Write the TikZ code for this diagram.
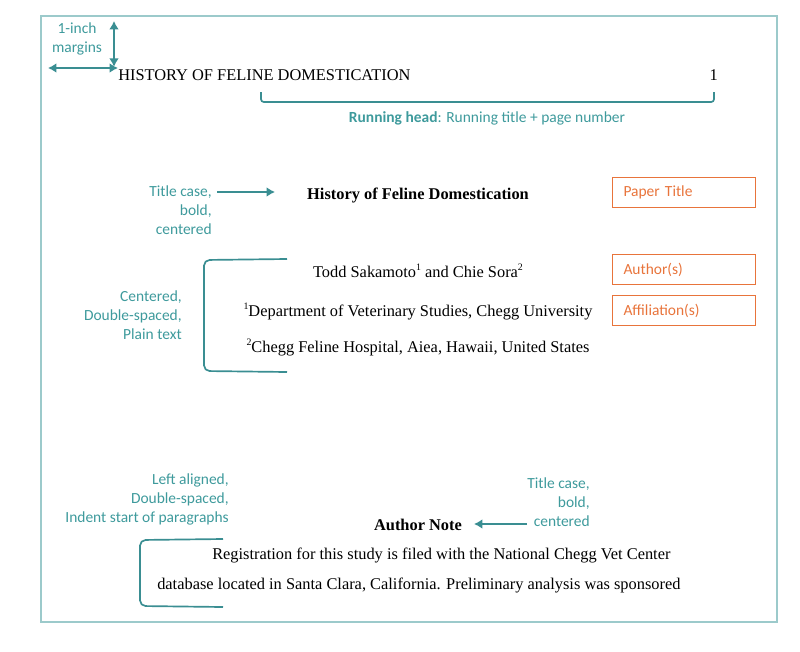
\documentclass[tikz,border=0pt]{standalone}
\usepackage{fontspec}
\setmainfont{Liberation Serif}
\newfontfamily\notefont{Carlito}
\usetikzlibrary{positioning, arrows.meta}
\definecolor{framecol}{HTML}{9CCACB}
\definecolor{notecol}{HTML}{3E9A9C}
\definecolor{arrowcol}{HTML}{3A8E92}
\definecolor{labelcol}{HTML}{E8743B}
\newcommand{\px}{0.025cm}
\newcommand{\affmark}[1]{\raisebox{0.38em}{\fontsize{7}{8}\selectfont #1}}

\begin{document}
\begin{tikzpicture}[
        x = \px,
        y = -\px,
        body/.style = {inner sep = 0pt, font = \fontsize{11.65}{14}\selectfont},
        bold body/.style = {inner sep = 0pt, font = \fontsize{11.65}{14}\selectfont\bfseries},
        note/.style = {inner sep = 0pt, text = notecol, align = right, font = \notefont\fontsize{11}{13.2}\selectfont},
        labelbox/.style = {draw = labelcol, line width = 0.8pt, text = labelcol, anchor = north west,
            minimum height = 21.3pt, text width = 86pt, inner xsep = 7.8pt, align = left,
            font = \notefont\fontsize{11}{13.2}\selectfont},
        pointer/.style = {draw = arrowcol, line width = 1.6pt, -{Latex[length = 6pt, width = 7pt]}},
        twoway/.style = {draw = arrowcol, line width = 1.6pt, {Latex[length = 6pt, width = 7pt]}-{Latex[length = 6pt, width = 7pt]}},
        bracket/.style = {draw = arrowcol, line width = 1.2pt, rounded corners = 4pt}
      ]
      \useasboundingbox (0,0) rectangle (800,651);
      \draw[framecol, line width = 1.1pt] (41,16) rectangle (777,622);

      \node[body, anchor = base west] (runtitle) at (118,80.7) {HISTORY OF FELINE DOMESTICATION};
      \node[body, anchor = base east] (pagenum) at (718,80.7) {1};
      \node[note, anchor = base] (runnote) at (487,122) {\textbf{Running head}: Running title + page number};
      \node[note, align = center, anchor = base] (margnote) at (77,52) {1-inch\\margins};

      \coordinate (margtop) at (114,21);
      \coordinate (margleft) at (48,68);
      \draw[twoway] (margtop) -- ([yshift = 2pt] margtop |- runtitle.north);
      \draw[twoway] (margleft) -- (margleft -| runtitle.west);

      \coordinate (runleft) at (261,92);
      \coordinate (runright) at (714,92);
      \draw[bracket, rounded corners = 2pt] (runleft) -- ++(0,10) -| (runright);

      \node[bold body, anchor = base] (papertitle) at (418,199) {History of Feline Domestication};
      \node[note, anchor = base east] (titlenote) at (212,234) {Title case,\\bold,\\centered};
      \coordinate (titletip) at (275,192);
      \draw[pointer] (titletip -| titlenote.east) ++(5,0) -- (titletip);

      \node[body, anchor = base] (authors) at (418,277) {Todd Sakamoto\affmark{1} and Chie Sora\affmark{2}};
      \node[body, anchor = base] (affilone) at (418,316) {\affmark{1}Department of Veterinary Studies, Chegg University};
      \node[body, anchor = base] (affiltwo) at (418,352) {\affmark{2}Chegg Feline Hospital, Aiea, Hawaii, United States};
      \node[note, anchor = base east] (plainnote) at (182,339) {Centered,\\Double-spaced,\\Plain text};
      \coordinate (plaintop) at (287,259);
      \coordinate (plainbottom) at (287,372);
      \draw[bracket] (plaintop) -- (204,260) -- (204,371) -- (plainbottom);

      \node[labelbox] (boxtitle) at (612,177) {Paper Title};
      \node[labelbox] (boxauthor) at (612,254) {Author(s)};
      \node[labelbox] (boxaffil) at (612,295) {Affiliation(s)};

      \node[note, anchor = base east] (leftnote) at (229,522) {Left aligned,\\Double-spaced,\\Indent start of paragraphs};
      \node[bold body, anchor = base] (authornote) at (418,530) {Author Note};
      \node[note, anchor = base east] (notenote) at (590,526) {Title case,\\bold,\\centered};
      \coordinate (notetip) at (474,524);
      \draw[pointer] (527,524) -- (notetip);

      \node[body, anchor = base west] (paraone) at (212,559) {Registration for this study is filed with the National Chegg Vet Center};
      \node[body, anchor = base west] (paratwo) at (157,589) {database located in Santa Clara, California. Preliminary analysis was sponsored};
      \coordinate (paratop) at (223,539);
      \coordinate (parabottom) at (223,607);
      \draw[bracket] (paratop) -- (140,540) -- (140,606) -- (parabottom);
    \end{tikzpicture}
\end{document}
